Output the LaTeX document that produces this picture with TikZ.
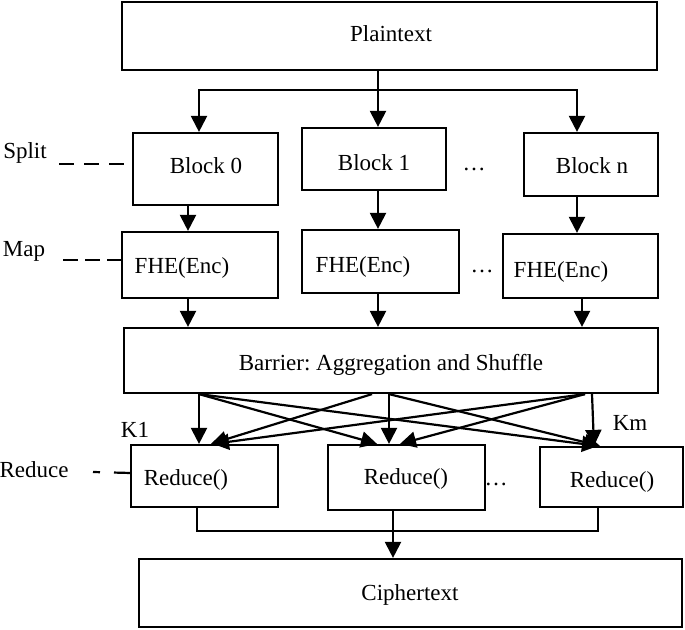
\documentclass[tikz,border=0pt]{standalone}
\usepackage{fontspec}
\setmainfont{Liberation Serif}
\usetikzlibrary{arrows.meta}
\frenchspacing
\begin{document}
\begin{tikzpicture}[x=1pt,y=-1pt,
  box/.style={draw, line width=2.2pt, inner sep=0pt},
  txt/.style={font=\fontsize{23}{27}\selectfont, inner sep=0pt, anchor=base},
  line/.style={line width=2.2pt},
  arr/.style={line width=2.2pt, -{Triangle[length=16pt,width=16pt]}},
  dashline/.style={line width=2.2pt, dash pattern=on 15pt off 10pt}]
\useasboundingbox (0,0) rectangle (685,629);

% boxes
\node[box, minimum width=535pt, minimum height=68pt] (pt) at (389.5,36) {};
\node[box, minimum width=145pt, minimum height=72pt] (b0) at (205.5,169) {};
\node[box, minimum width=144pt, minimum height=62pt] (b1) at (374,159) {};
\node[box, minimum width=134pt, minimum height=63pt] (bn) at (591,164.5) {};
\node[box, minimum width=156pt, minimum height=66pt] (f1) at (200,265) {};
\node[box, minimum width=157pt, minimum height=63pt] (f2) at (380.5,261.5) {};
\node[box, minimum width=155pt, minimum height=64pt] (f3) at (580.5,266) {};
\node[box, minimum width=534pt, minimum height=65pt] (bar) at (391,360.5) {};
\node[box, minimum width=147pt, minimum height=62pt] (r1) at (204.5,476) {};
\node[box, minimum width=157pt, minimum height=65pt] (r2) at (406.5,477.5) {};
\node[box, minimum width=143pt, minimum height=60pt] (r3) at (611.5,477) {};
\node[box, minimum width=543pt, minimum height=68pt] (ct) at (410.5,593) {};

% texts
\node[txt] (ptt) at (391,41) {Plaintext};
\node[txt] (b0t) at (206,173) {Block 0};
\node[txt] (b1t) at (374,170) {Block 1};
\node[txt] (bnt) at (592,173) {Block n};
\node[txt] (d1) at (474,170) {\ldots};
\node[txt] (f1t) at (182,273) {FHE(Enc)};
\node[txt] (f2t) at (363,272) {FHE(Enc)};
\node[txt] (f3t) at (561,277) {FHE(Enc)};
\node[txt] (d2) at (482,272) {\ldots};
\node[txt] (bart) at (391,370) {Barrier: Aggregation and Shuffle};
\node[txt] (r1t) at (186,485) {Reduce()};
\node[txt] (r2t) at (406,484) {Reduce()};
\node[txt] (r3t) at (612,487) {Reduce()};
\node[txt] (d3) at (496,485) {\ldots};
\node[txt] (ctt) at (410,600) {Ciphertext};
\node[txt] (split) at (25,158) {Split};
\node[txt] (map) at (24,256) {Map};
\node[txt] (red) at (34,477) {Reduce};
\node[txt] (k1) at (135,437) {K1};
\node[txt] (km) at (630,430) {Km};

% dashed leaders
\coordinate (s1) at (59,164); \coordinate (s2) at (124,164);
\coordinate (m1) at (63,260); \coordinate (m2) at (122,260);
\coordinate (q1) at (93,472); \coordinate (q2) at (131,473);
\draw[dashline] (s1) -- (s2);
\draw[line width=2.2pt, dash pattern=on 15pt off 7pt] (m1) -- (m2);
\draw[line width=2.2pt, dash pattern=on 7pt off 14pt on 20pt off 0pt] (q1) -- (q2);

% plaintext to blocks
\coordinate (sp) at (378,90);
\draw[line] (pt.south -| sp) -- (sp);
\draw[arr] (sp) -| (b0.north -| 199,0);
\draw[arr] (sp) -| (bn.north -| 577,0);
\draw[arr] (sp) -- (b1.north -| sp);

% blocks to FHE
\draw[arr] (b0.south -| 188,0) -- (f1.north -| 188,0);
\draw[arr] (b1.south -| 378,0) -- (f2.north -| 378,0);
\draw[arr] (bn.south -| 577,0) -- (f3.north -| 577,0);

% FHE to barrier
\draw[arr] (f1.south -| 188,0) -- (bar.north -| 188,0);
\draw[arr] (f2.south -| 378,0) -- (bar.north -| 378,0);
\draw[arr] (f3.south -| 582,0) -- (bar.north -| 582,0);

% shuffle
\draw[arr] (bar.south -| 199,0) -- (r1.north -| 199,0);
\draw[arr] (bar.south -| 199,0) -- (r2.north -| 377,0);
\draw[arr] (bar.south -| 199,0) -- (r3.north -| 598,0);
\draw[arr] (bar.south -| 372,0) -- (r1.north -| 211,0);
\draw[arr] (bar.south -| 389,0) -- (r2.north -| 389,0);
\draw[arr] (bar.south -| 389,0) -- (r3.north -| 600,0);
\draw[arr] (bar.south -| 585,0) -- (r1.north -| 213,0);
\draw[arr] (bar.south -| 585,0) -- (r2.north -| 400,0);
\draw[arr] (bar.south -| 592,0) -- (r3.north -| 594,0);

% merge to ciphertext
\coordinate (ml) at (197,531);
\coordinate (mr) at (598,531);
\draw[line] (r1.south -| ml) -- (ml) -- (mr) -- (r3.south -| mr);
\draw[arr] (r2.south -| 393,0) -- (ct.north -| 393,0);
\end{tikzpicture}
\end{document}
